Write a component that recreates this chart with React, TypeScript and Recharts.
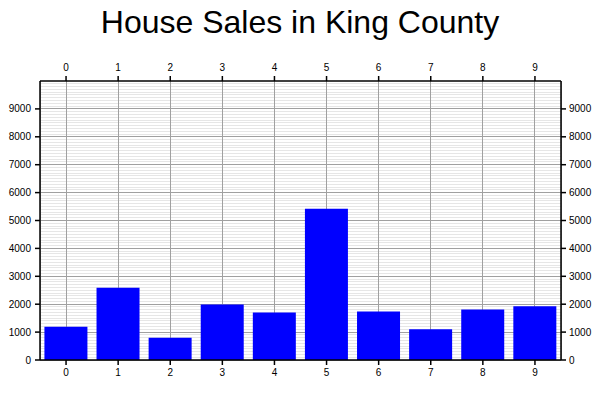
import React from 'react';
import { BarChart, Bar, Line, XAxis, YAxis, CartesianGrid } from 'recharts';

const title = 'House Sales in King County';
const categories = ['0', '1', '2', '3', '4', '5', '6', '7', '8', '9'];
const sales = [1190, 2590, 800, 1990, 1700, 5420, 1740, 1100, 1810, 1930];
const yTicks = [0, 1000, 2000, 3000, 4000, 5000, 6000, 7000, 8000, 9000];
const minorStep = 100;
const yMax = 10000;
const minorTicks = Array.from({ length: yMax / minorStep }, (_, i) => i * minorStep);

const data = categories.map((c, i) => ({ category: c, sales: sales[i] }));

const FONT = '"Liberation Sans", Arial, sans-serif';
const tickStyle = { fontFamily: FONT, fontSize: 10, fill: '#000' };
const axisLine = { stroke: '#000', strokeWidth: 1.5 };
const tickLine = { stroke: '#000', strokeWidth: 1.5 };
const MAJOR = '#a0a0a0';
const MINOR = '#e6e6e6';

const makeLine = (color: string) => (p: any) => (
  <line
    key={`${p.x1}-${p.y1}-${p.x2}-${p.y2}`}
    x1={p.x1}
    y1={p.y1}
    x2={p.x2}
    y2={p.y2}
    stroke={color}
    strokeWidth={1}
    shapeRendering="crispEdges"
    fill="none"
  />
);

export default function App() {
  return (
    <div style={{ position: 'absolute', left: 0, top: 0, width: 600, height: 400, background: '#fff' }}>
      <div
        style={{
          position: 'absolute',
          left: 0,
          top: 4,
          width: 600,
          textAlign: 'center',
          fontFamily: FONT,
          fontSize: 32,
          lineHeight: '36px',
          color: '#000',
        }}
      >
        {title}
      </div>
      <BarChart
        width={600}
        height={400}
        data={data}
        margin={{ top: 51, right: 0, bottom: 10, left: 0 }}
        barCategoryGap="8.5%"
      >
        <CartesianGrid
          horizontalValues={minorTicks}
          vertical={false}
          horizontal={makeLine(MINOR)}
          stroke={MINOR}
        />
        <CartesianGrid
          horizontalValues={yTicks}
          horizontal={makeLine(MAJOR)}
          vertical={makeLine(MAJOR)}
          stroke={MAJOR}
        />
        <XAxis
          dataKey="category"
          height={30}
          interval={0}
          tick={tickStyle}
          tickSize={5}
          tickMargin={4}
          axisLine={axisLine}
          tickLine={tickLine}
        />
        <XAxis
          xAxisId="top"
          dataKey="category"
          orientation="top"
          height={30}
          interval={0}
          tick={tickStyle}
          tickSize={5}
          tickMargin={5}
          axisLine={axisLine}
          tickLine={tickLine}
        />
        <YAxis
          domain={[0, yMax]}
          ticks={yTicks}
          interval={0}
          width={40}
          tick={tickStyle}
          tickSize={5}
          tickMargin={4}
          axisLine={axisLine}
          tickLine={tickLine}
        />
        <YAxis
          yAxisId="right"
          orientation="right"
          domain={[0, yMax]}
          ticks={yTicks}
          interval={0}
          width={39}
          tick={tickStyle}
          tickSize={5}
          tickMargin={3}
          axisLine={axisLine}
          tickLine={tickLine}
        />
        <Bar dataKey="sales" fill="#0000ff" isAnimationActive={false} />
        <Line
          yAxisId="right"
          xAxisId="top"
          dataKey="sales"
          stroke="none"
          dot={false}
          activeDot={false}
          legendType="none"
          isAnimationActive={false}
        />
      </BarChart>
    </div>
  );
}
